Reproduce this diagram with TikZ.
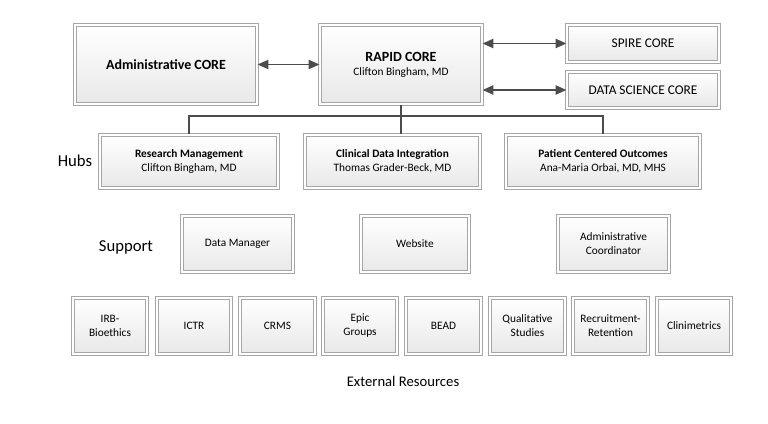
\documentclass[tikz,border=0pt]{standalone}
\usepackage{fontspec}
\setmainfont{Carlito}
\usetikzlibrary{arrows.meta,shadows}
\begin{document}
\begin{tikzpicture}[x=0.75pt,y=-0.75pt,
 bx/.style={draw=gray!70,line width=1pt,top color=white,bottom color=gray!18,
   double=white,double distance=0.8pt,align=center,font=\fontsize{8.5}{10.5}\selectfont,inner sep=1pt,
   drop shadow={opacity=0.25,shadow xshift=1pt,shadow yshift=-1pt}},
 ln/.style={draw=black!70,line width=0.9pt},
 ar/.style={ln,{Triangle[length=8pt,width=7pt]}-{Triangle[length=8pt,width=7pt]}}]
\useasboundingbox (0,0) rectangle (768,424);
\newcommand{\bxat}[6]{\node[bx,minimum width={(#4-#2)*0.75pt},minimum height={(#5-#3)*0.75pt}] (#1) at ({(#2+#4)/2},{(#3+#5)/2}) {#6};}
\bxat{adm}{75}{25}{257}{104}{\fontsize{10.5}{12}\selectfont\bfseries Administrative CORE}
\bxat{rap}{320}{25}{482}{104}{{\fontsize{10.5}{12.5}\selectfont\bfseries RAPID CORE}\\Clifton Bingham, MD}
\bxat{spi}{567}{25}{719}{62}{\fontsize{10}{11}\selectfont SPIRE CORE}
\bxat{dsc}{567}{72}{719}{108}{\fontsize{10}{11}\selectfont DATA SCIENCE CORE}
\bxat{rm}{100}{135}{278}{188}{\textbf{Research Management}\\Clifton Bingham, MD}
\bxat{cdi}{305}{135}{480}{188}{\textbf{Clinical Data Integration}\\Thomas Grader-Beck, MD}
\bxat{pco}{506}{135}{700}{188}{\textbf{Patient Centered Outcomes}\\Ana-Maria Orbai, MD, MHS}
\bxat{dm}{182}{216}{293}{272}{Data Manager}
\bxat{web}{361}{216}{469}{272}{Website}
\bxat{ac}{558}{216}{669}{272}{Administrative\\Coordinator}
\bxat{e1}{73}{298}{147}{354}{IRB-\\Bioethics}
\bxat{e2}{157}{298}{231}{354}{ICTR}
\bxat{e3}{240}{298}{315}{354}{CRMS}
\bxat{e4}{323}{298}{397}{354}{Epic\\Groups}
\bxat{e5}{406}{298}{481}{354}{BEAD}
\bxat{e6}{490}{298}{565}{354}{Qualitative\\Studies}
\bxat{e7}{573}{298}{648}{354}{Recruitment-\\Retention}
\bxat{e8}{657}{298}{731}{354}{Clinimetrics}
\draw[ar] (adm.east) -- (rap.west |- adm.east);
\draw[ar] (rap.east |- spi.west) -- (spi.west);
\draw[ar] (rap.east |- dsc.west) -- (dsc.west);
\coordinate (bus) at (401,116);
\draw[ln] (rap.south) -- (bus);
\draw[ln] (rm.north) |- (bus) -| (pco.north);
\draw[ln] (bus) -- (cdi.north -| bus);
\node[font=\fontsize{12.5}{14}\selectfont] (hubs) at (75,161) {Hubs};
\node[font=\fontsize{12.5}{14}\selectfont] (sup) at (126,247) {Support};
\node[font=\fontsize{11}{12}\selectfont] (ext) at (403,381) {External Resources};
\end{tikzpicture}
\end{document}
